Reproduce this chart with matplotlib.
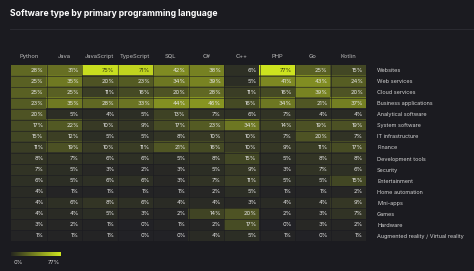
import numpy as np
import matplotlib.pyplot as plt
from matplotlib.colors import LinearSegmentedColormap
from matplotlib.lines import Line2D

languages = ["Python", "Java", "JavaScript", "TypeScript", "SQL", "C#", "C++", "PHP", "Go", "Kotlin"]
software_types = [
    "Websites", "Web services", "Cloud services", "Business applications",
    "Analytical software", "System software", "IT infrastructure", "Finance",
    "Development tools", "Security", "Entertainment", "Home automation",
    "Mini-apps", "Games", "Hardware", "Augmented reality / Virtual reality",
]
shares = [
    [28, 31, 75, 71, 42, 38, 6, 77, 25, 15],
    [25, 35, 20, 23, 34, 39, 5, 41, 43, 24],
    [25, 25, 11, 16, 20, 28, 11, 16, 39, 20],
    [23, 35, 28, 33, 44, 46, 16, 34, 21, 37],
    [20, 5, 4, 5, 13, 7, 6, 7, 4, 4],
    [17, 22, 10, 9, 17, 23, 34, 14, 19, 19],
    [15, 12, 5, 5, 8, 10, 10, 7, 20, 7],
    [11, 19, 10, 11, 21, 16, 10, 9, 11, 17],
    [8, 7, 6, 6, 5, 8, 15, 5, 8, 8],
    [7, 5, 3, 2, 3, 5, 9, 3, 7, 6],
    [6, 5, 6, 6, 3, 7, 11, 5, 5, 15],
    [4, 1, 1, 1, 1, 2, 5, 1, 1, 2],
    [4, 6, 8, 6, 4, 4, 3, 4, 4, 9],
    [4, 4, 5, 3, 2, 14, 20, 2, 3, 7],
    [3, 2, 1, 0, 1, 2, 17, 0, 3, 2],
    [1, 1, 1, 0, 0, 4, 5, 1, 0, 1],
]

bg = "#1b1b20"
plt.rcParams["font.family"] = ["Inter", "DejaVu Sans"]

cmap = LinearSegmentedColormap.from_list("lime", ["#222226", "#cde31f"])
data = np.array(shares)
vmax = data.max()

fig = plt.figure(figsize=(4.74, 2.71), dpi=100, facecolor=bg)
W, H = 474, 271
ax = fig.add_axes([11 / W, 1 - 241.5 / H, 355 / W, 177 / H])
ax.set_facecolor(bg)
ax.imshow(data, cmap=cmap, vmin=0, vmax=vmax, aspect="auto", interpolation="nearest")

# thin gaps between cells
for i in range(1, data.shape[0]):
    ax.axhline(i - 0.5, color=bg, lw=0.4)
for j in range(1, data.shape[1]):
    ax.axvline(j - 0.5, color=bg, lw=0.4)

for i in range(data.shape[0]):
    for j in range(data.shape[1]):
        v = data[i, j]
        ax.text(j + 0.42, i, f"{v}%", ha="right", va="center", fontsize=4.2,
                color="#3a4010" if v > 60 else "#e6e6e6")

ax.set_xticks(range(len(languages)))
ax.set_xticklabels(languages, fontsize=4.2, color="#bdbdbd")
ax.xaxis.tick_top()
ax.tick_params(axis="x", length=0, pad=4)
ax.set_yticks(range(len(software_types)))
ax.set_yticklabels(software_types, fontsize=4.0, color="#d0d0d0")
ax.yaxis.tick_right()
ax.tick_params(axis="y", length=0, pad=8)
for s in ax.spines.values():
    s.set_visible(False)

fig.text(10 / W, 1 - 13 / H, "Software type by primary programming language",
         fontsize=6.2, fontweight="bold", color="white", va="center", ha="left")
fig.add_artist(Line2D([10 / W, 1.0], [1 - 29 / H, 1 - 29 / H], color="#2e2e34", lw=0.6))

# colour legend
cax = fig.add_axes([11 / W, 1 - 256 / H, 49 / W, 4.5 / H])
cax.imshow(np.linspace(0, 1, 100)[None, :], cmap=LinearSegmentedColormap.from_list("leg", ["#26271f", "#cfe620"]),
           aspect="auto")
cax.axis("off")
fig.text(14 / W, 1 - 263 / H, "0%", fontsize=4.2, color="#cfcfcf", va="center", ha="left")
fig.text(60 / W, 1 - 263 / H, f"{vmax}%", fontsize=4.2, color="#cfcfcf", va="center", ha="right")

fig.savefig("out.png", dpi=100, facecolor=bg)
